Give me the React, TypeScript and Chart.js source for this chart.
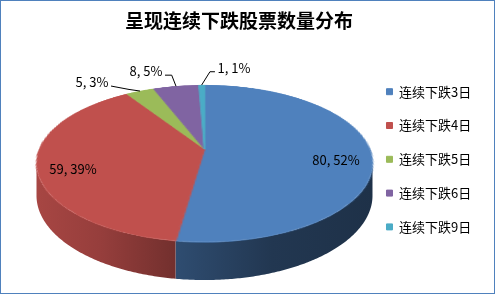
import { useEffect, useRef } from 'react';
import { Chart, registerables } from 'chart.js';

Chart.register(...registerables);

const chartTitle = '呈现连续下跌股票数量分布';
const categories = ['连续下跌3日', '连续下跌4日', '连续下跌5日', '连续下跌6日', '连续下跌9日'];
const stockCounts = [80, 59, 5, 8, 1];
const sliceColors = ['#4F81BD', '#C0504D', '#9BBB59', '#8064A2', '#4BACC6'];

// Leader lines for labels placed outside the disc: [elbowDx, elbowDy, tailDx, tailDy]
const outsideLeaders: (number[] | null)[] = [null, null, [-11, -1.6, -18, -3.4], [-4.3, -11, -6.7, 0], [8.3, -13.3, 5, 0]];

const FONT = '"Noto Sans CJK SC", "Noto Sans", sans-serif';

// Perspective disc the flat pie is mapped onto (canvas px)
const DISC = { cx: 203.5, cy: 148, a: 165.1, b: 75.8, persp: 0.185, depth: 31 };
const INNER_LABEL_RADIUS = 0.79;
const INNER_LABEL_DROP = 7;

// brightness of the rim wall, left to right
const sideShade: [number, number][] = [
  [0, 0.87],
  [0.19, 0.78],
  [0.41, 0.6],
  [0.7, 0.43],
  [1, 0.38],
];

function project(u: number, w: number) {
  const s = 1 / (1 - DISC.persp * w);
  return { x: DISC.cx + DISC.a * u * s, y: DISC.cy + DISC.b * w * s, s };
}

function shadeHex(hex: string, f: number) {
  const n = parseInt(hex.slice(1), 16);
  const r = Math.round(((n >> 16) & 255) * f);
  const g = Math.round(((n >> 8) & 255) * f);
  const b = Math.round((n & 255) * f);
  return `rgb(${r},${g},${b})`;
}

const disc3d = {
  id: 'disc3d',
  afterDatasetsDraw(chart: any) {
    const meta = chart.getDatasetMeta(0);
    const arcs = meta.data as any[];
    if (!arcs.length) return;
    const pcx = arcs[0].x;
    const pcy = arcs[0].y;
    const R = arcs[0].outerRadius;
    const ctx: CanvasRenderingContext2D = chart.ctx;

    // lift the flat pie off the canvas
    const pad = 3;
    const sx0 = Math.floor(pcx - R - pad);
    const sy0 = Math.floor(pcy - R - pad);
    const size = Math.ceil(2 * R + 2 * pad);
    const off = document.createElement('canvas');
    off.width = size;
    off.height = size;
    off.getContext('2d')!.drawImage(chart.canvas, sx0, sy0, size, size, 0, 0, size, size);

    ctx.save();
    ctx.clearRect(sx0, sy0, size, size);

    // rim walls on the visible front half
    const aMin = Math.asin(DISC.persp);
    const aMax = Math.PI - aMin;
    const halfW = DISC.a / Math.sqrt(1 - DISC.persp * DISC.persp);
    const xl = DISC.cx - halfW;
    const xr = DISC.cx + halfW;
    arcs.forEach((arc, i) => {
      const a0 = Math.max(arc.startAngle, aMin);
      const a1 = Math.min(arc.endAngle, aMax);
      if (a1 <= a0) return;
      const n = Math.max(2, Math.ceil((a1 - a0) / 0.01));
      const top: [number, number][] = [];
      const bot: [number, number][] = [];
      for (let k = 0; k <= n; k++) {
        const a = a0 + ((a1 - a0) * k) / n;
        const p = project(Math.cos(a), Math.sin(a));
        top.push([p.x, p.y]);
        bot.push([p.x, p.y + DISC.depth * p.s]);
      }
      ctx.beginPath();
      ctx.moveTo(top[0][0], top[0][1]);
      for (const [x, y] of top) ctx.lineTo(x, y);
      for (let k = bot.length - 1; k >= 0; k--) ctx.lineTo(bot[k][0], bot[k][1]);
      ctx.closePath();
      const grad = ctx.createLinearGradient(xl, 0, xr, 0);
      sideShade.forEach(([t, f]) => grad.addColorStop(t, shadeHex(sliceColors[i], f)));
      ctx.fillStyle = grad;
      ctx.fill();
    });

    // top face, row by row through the perspective mapping
    const yTop = Math.floor(DISC.cy - DISC.b / (1 + DISC.persp)) - 1;
    const yBot = Math.ceil(DISC.cy + DISC.b / (1 - DISC.persp)) + 1;
    for (let Y = yTop; Y <= yBot; Y++) {
      const dy = Y + 0.5 - DISC.cy;
      const w = dy / (DISC.b + DISC.persp * dy);
      const s = 1 / (1 - DISC.persp * w);
      const srcY = pcy - sy0 + R * w;
      if (srcY - 0.5 < 0 || srcY + 0.5 > size) continue;
      const x0 = DISC.cx + (DISC.a * s * (sx0 - pcx)) / R;
      const dw = (DISC.a * s * size) / R;
      ctx.drawImage(off, 0, srcY - 0.5, size, 1, x0, Y, dw, 1);
    }

    // value labels
    const total = stockCounts.reduce((t, v) => t + v, 0);
    ctx.font = `13px ${FONT}`;
    ctx.fillStyle = '#000';
    ctx.strokeStyle = '#000';
    ctx.lineWidth = 1;
    ctx.textBaseline = 'middle';
    arcs.forEach((arc, i) => {
      const v = stockCounts[i];
      const text = `${v}, ${Math.round((v / total) * 100)}%`;
      const mid = (arc.startAngle + arc.endAngle) / 2;
      const leader = outsideLeaders[i];
      if (!leader) {
        const p = project(Math.cos(mid) * INNER_LABEL_RADIUS, Math.sin(mid) * INNER_LABEL_RADIUS);
        ctx.textAlign = 'center';
        ctx.fillText(text, p.x, p.y + INNER_LABEL_DROP);
        return;
      }
      const rim = project(Math.cos(mid), Math.sin(mid));
      const ex = rim.x + leader[0];
      const ey = rim.y + leader[1];
      const tx = ex + leader[2];
      const ty = ey + leader[3];
      ctx.beginPath();
      ctx.moveTo(rim.x, rim.y);
      ctx.lineTo(ex, ey);
      ctx.lineTo(tx, ty);
      ctx.stroke();
      if (leader[2] < 0) {
        ctx.textAlign = 'right';
        ctx.fillText(text, tx - 2.5, ty - 4);
      } else {
        ctx.textAlign = 'left';
        ctx.fillText(text, tx + 2.5, ty - 4);
      }
    });
    ctx.restore();
  },
};

export default function App() {
  const canvasRef = useRef<HTMLCanvasElement>(null);

  useEffect(() => {
    const chart = new Chart(canvasRef.current!, {
      type: 'pie',
      data: {
        labels: categories,
        datasets: [
          {
            data: stockCounts,
            backgroundColor: sliceColors,
            borderColor: sliceColors,
            borderWidth: 1,
          },
        ],
      },
      options: {
        responsive: false,
        animation: false,
        devicePixelRatio: 1,
        events: [],
        layout: { padding: { left: -4, right: 12.8, top: 0, bottom: 16.2 } },
        plugins: {
          title: {
            display: true,
            text: chartTitle,
            color: '#000',
            font: { family: FONT, size: 19, weight: 'bold' },
            padding: { top: 8, bottom: 10 },
          },
          legend: {
            position: 'right',
            fullSize: false,
            labels: {
              boxWidth: 6,
              boxHeight: 6,
              padding: 20.8,
              color: '#000',
              font: { family: FONT, size: 13 },
            },
          },
          tooltip: { enabled: false },
        },
      },
      plugins: [disc3d],
    } as any);
    return () => chart.destroy();
  }, []);

  return (
    <div
      style={{
        position: 'fixed',
        left: 0,
        top: 0,
        width: 495,
        height: 294,
        boxSizing: 'border-box',
        border: '1px solid #4F81BD',
        background: '#fff',
      }}
    >
      <canvas ref={canvasRef} width={493} height={292} style={{ display: 'block', width: 493, height: 292 }} />
    </div>
  );
}
